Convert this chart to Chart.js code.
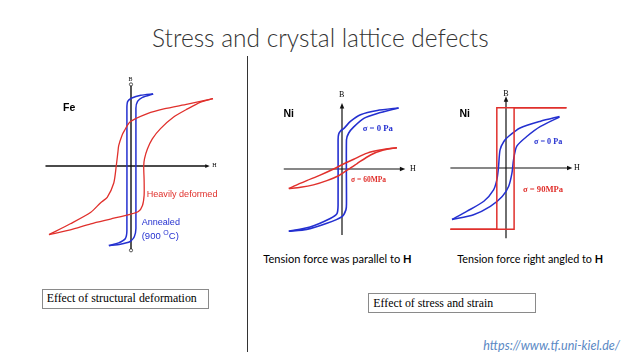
<!DOCTYPE html>
<html>
<head>
<meta charset="utf-8">
<script src="https://cdn.jsdelivr.net/npm/chart.js@4.4.0/dist/chart.umd.min.js"></script>
<style>
    html, body { margin: 0; padding: 0; background: #fff; }
    #slide { position: relative; width: 638px; height: 359px; overflow: hidden; background: #fff; }
    #slide canvas { position: absolute; }
    .t { position: absolute; white-space: nowrap; line-height: 1; transform: translateY(-50%); }
    .c { transform: translate(-50%, -50%); }
    .sans { font-family: 'Liberation Sans', Arial, sans-serif; }
    .serif { font-family: 'Liberation Serif', 'Times New Roman', serif; }
    .cal { font-family: Lato, 'Open Sans', sans-serif; }
    .red { color: #e0302c; }
    .blue { color: #2430d0; }
    .box { position: absolute; border: 1px solid #8a8a8a; box-sizing: border-box; }
</style>
</head>
<body>
<div id="slide">
    <div class="t cal" style="left:152px;top:38px;color:#333;font-weight:300" data-w="337">Stress and crystal lattice defects</div>
    <div style="position:absolute;left:246.5px;top:56px;width:1.5px;height:296px;background:#333"></div>

    <canvas id="feChart"></canvas>
    <canvas id="niParChart"></canvas>
    <canvas id="niPerpChart"></canvas>

    <!-- Fe panel labels -->
    <div class="t sans" style="left:63px;top:107px;font-weight:bold;font-size:10.5px">Fe</div>
    <div class="t serif c" style="left:130.5px;top:79px;font-size:6px">B</div>
    <div class="t serif c" style="left:214.5px;top:165px;font-size:6px">H</div>
    <div class="t sans red" style="left:146.7px;top:195px" data-w="71">Heavily deformed</div>
    <div class="t sans blue" style="left:141.7px;top:223px" data-w="38.5">Annealed</div>
    <div class="t sans blue" style="left:141.7px;top:234.5px;font-size:9.5px">(900 <sup style="font-size:7px">O</sup>C)</div>

    <!-- Ni, tension parallel -->
    <div class="t sans" style="left:283.5px;top:113px;font-weight:bold;font-size:10.5px">Ni</div>
    <div class="t serif c" style="left:341.7px;top:95px;font-size:8px">B</div>
    <div class="t serif c" style="left:413px;top:169px;font-size:8px">H</div>
    <div class="t serif blue" style="left:362.7px;top:128px;font-weight:bold" data-w="30.5">&sigma; = 0 Pa</div>
    <div class="t serif red" style="left:351px;top:179.5px;font-weight:bold" data-w="35">&sigma; = 60MPa</div>

    <!-- Ni, tension right angled -->
    <div class="t sans" style="left:459.5px;top:113px;font-weight:bold;font-size:10.5px">Ni</div>
    <div class="t serif c" style="left:506px;top:94px;font-size:8px">B</div>
    <div class="t serif c" style="left:577px;top:168.3px;font-size:8px">H</div>
    <div class="t serif blue" style="left:534px;top:142px;font-weight:bold" data-w="28.5">&sigma; = 0 Pa</div>
    <div class="t serif red" style="left:523px;top:188.5px;font-weight:bold" data-w="40">&sigma; = 90MPa</div>

    <!-- captions -->
    <div class="t cal" style="left:263.3px;top:259px" data-w="148.4">Tension force was parallel to <b>H</b></div>
    <div class="t cal" style="left:457.3px;top:259px" data-w="146">Tension force right angled to <b>H</b></div>

    <div class="box" style="left:41.7px;top:289px;width:167.5px;height:19.5px"></div>
    <div class="t serif" style="left:46.7px;top:298.5px" data-w="150">Effect of structural deformation</div>
    <div class="box" style="left:368.3px;top:293.3px;width:167.7px;height:20px"></div>
    <div class="t serif" style="left:373.3px;top:303.5px" data-w="120">Effect of stress and strain</div>

    <div class="t cal" style="left:483.3px;top:346px;font-style:italic;color:#5a88c4" data-w="136.7">https://www.tf.uni-kiel.de/</div>
</div>

<script>
/* ── Hysteresis loops, H and B in relative units (tip of each loop ≈ 1) ── */

// Fe, heavily deformed
const feDeformedDown = [[1.00, 0.99], [0.69, 0.91], [0.40, 0.84], [0.20, 0.77], [-0.01, 0.65], [-0.08, 0.52],
    [-0.11, 0.45], [-0.15, 0.30], [-0.16, 0.20], [-0.18, 0], [-0.21, -0.25], [-0.29, -0.46], [-0.37, -0.54],
    [-0.49, -0.68], [-0.74, -0.85], [-1.00, -1.01]];
const feDeformedUp = [[-1.00, -1.01], [-0.74, -0.94], [-0.49, -0.85], [-0.25, -0.78], [-0.01, -0.71], [0.09, -0.67],
    [0.14, -0.58], [0.16, -0.43], [0.16, -0.21], [0.155, 0], [0.165, 0.11], [0.20, 0.25], [0.26, 0.40],
    [0.36, 0.55], [0.52, 0.72], [0.69, 0.84], [0.85, 0.94], [1.00, 0.99]];

// Fe, annealed (900 °C)
const feAnnealedDown = [[0.27, 1.06], [0.12, 1.04], [0.01, 1.00], [-0.04, 0.95], [-0.05, 0.85], [-0.05, -0.95],
    [-0.07, -1.07], [-0.15, -1.13], [-0.27, -1.17]];
const feAnnealedUp = [[-0.27, -1.17], [-0.13, -1.15], [-0.01, -1.11], [0.04, -1.04], [0.06, -0.92], [0.06, 0.85],
    [0.08, 0.95], [0.14, 1.01], [0.27, 1.06]];

// Ni, tension parallel to H
const niZeroDown = [[1.01, 1.00], [0.63, 0.96], [0.33, 0.89], [0.15, 0.78], [0.04, 0.67], [-0.03, 0.62],
    [-0.06, 0.57], [-0.07, 0.48], [-0.07, -0.59], [-0.09, -0.73], [-0.21, -0.81], [-0.57, -0.95], [-0.95, -1.02]];
const niZeroUp = [[-0.95, -1.02], [-0.63, -0.99], [-0.27, -0.89], [0, -0.78], [0.07, -0.67], [0.08, -0.57],
    [0.08, 0.48], [0.12, 0.59], [0.21, 0.69], [0.39, 0.83], [0.63, 0.91], [1.01, 1.00]];
const ni60Down = [[0.98, 0.35], [0.68, 0.31], [0.45, 0.26], [0.21, 0.16], [0, 0.07], [-0.15, 0],
    [-0.39, -0.10], [-0.63, -0.19], [-0.86, -0.28], [-0.95, -0.32]];
const ni60Up = [[-0.95, -0.32], [-0.74, -0.30], [-0.51, -0.26], [-0.27, -0.19], [-0.06, -0.11], [0.09, -0.02],
    [0.27, 0.09], [0.51, 0.23], [0.74, 0.31], [0.98, 0.35]];

// Ni, tension right angled to H
const niPerpZeroDown = [[0.99, 0.99], [0.64, 0.90], [0.26, 0.77], [0.05, 0.61], [-0.04, 0.51], [-0.11, 0.35],
    [-0.14, 0], [-0.17, -0.23], [-0.23, -0.42], [-0.41, -0.64], [-0.72, -0.83], [-1.00, -0.99]];
const niPerpZeroUp = [[-1.00, -0.99], [-0.60, -0.90], [-0.29, -0.74], [-0.07, -0.55], [0.05, -0.35], [0.11, -0.10],
    [0.14, 0.16], [0.20, 0.42], [0.39, 0.61], [0.64, 0.80], [0.99, 0.98]];
const ni90Down = [[1.12, 1.16], [-0.17, 1.16], [-0.17, -1.18], [-1.03, -1.18]];
const ni90Up = [[-1.03, -1.18], [0.15, -1.18], [0.15, 1.16], [1.12, 1.16]];

const RED = '#e0302c';
const BLUE = '#2430d0';

/* ── fit label font sizes to the widths seen on the slide ── */
document.querySelectorAll('[data-w]').forEach(function (el) {
    el.style.fontSize = '20px';
    const w = el.offsetWidth;
    el.style.fontSize = (20 * parseFloat(el.dataset.w) / w) + 'px';
});

/* ── plugin: B/H axes through the origin ── */
const loopAxes = {
    id: 'loopAxes',
    beforeDatasetsDraw(chart, args, opts) {
        const ctx = chart.ctx;
        const x = chart.scales.x, y = chart.scales.y;
        const x0 = x.getPixelForValue(0), y0 = y.getPixelForValue(0);
        const hL = x.getPixelForValue(opts.h[0]), hR = x.getPixelForValue(opts.h[1]);
        const bB = y.getPixelForValue(opts.b[0]), bT = y.getPixelForValue(opts.b[1]);
        const a = opts.arrow;
        ctx.save();
        ctx.strokeStyle = '#111';
        ctx.fillStyle = '#111';
        ctx.lineWidth = opts.width;
        ctx.beginPath();
        ctx.moveTo(hL, y0); ctx.lineTo(hR - a, y0);
        ctx.moveTo(x0, bB); ctx.lineTo(x0, opts.arrowB ? bT + a : bT);
        ctx.stroke();
        // arrow on H
        ctx.beginPath();
        ctx.moveTo(hR, y0); ctx.lineTo(hR - a * 1.8, y0 - a * 0.75); ctx.lineTo(hR - a * 1.8, y0 + a * 0.75);
        ctx.closePath(); ctx.fill();
        if (opts.arrowB) {
            ctx.beginPath();
            ctx.moveTo(x0, bT); ctx.lineTo(x0 - a * 0.75, bT + a * 1.8); ctx.lineTo(x0 + a * 0.75, bT + a * 1.8);
            ctx.closePath(); ctx.fill();
        }
        if (opts.dots) {
            ctx.lineWidth = 0.7;
            ctx.fillStyle = '#fff';
            [bT, bB].forEach(function (py) {
                ctx.beginPath(); ctx.arc(x0, py, 1.6, 0, Math.PI * 2); ctx.fill(); ctx.stroke();
            });
        }
        ctx.restore();
    }
};

function loopChart(id, frame, series, axes) {
    const canvas = document.getElementById(id);
    canvas.width = frame.hw * 2;
    canvas.height = frame.hh * 2;
    canvas.style.left = (frame.ox - frame.hw) + 'px';
    canvas.style.top = (frame.oy - frame.hh) + 'px';
    canvas.style.width = frame.hw * 2 + 'px';
    canvas.style.height = frame.hh * 2 + 'px';

    return new Chart(canvas.getContext('2d'), {
        type: 'scatter',
        data: {
            datasets: series.map(function (s) {
                return {
                    data: s.pts.map(function (p) { return { x: p[0], y: p[1] }; }),
                    borderColor: s.color,
                    borderWidth: s.width || 1.5,
                    showLine: true,
                    pointRadius: 0,
                    tension: s.tension === undefined ? 0.25 : s.tension,
                    fill: false,
                };
            })
        },
        options: {
            responsive: false,
            animation: false,
            events: [],
            layout: { padding: 0 },
            scales: {
                x: { type: 'linear', display: false, min: -frame.hw / frame.sx, max: frame.hw / frame.sx },
                y: { type: 'linear', display: false, min: -frame.hh / frame.sy, max: frame.hh / frame.sy },
            },
            plugins: {
                legend: { display: false },
                tooltip: { enabled: false },
                loopAxes: axes,
            }
        },
        plugins: [loopAxes]
    });
}

loopChart('feChart',
    { ox: 130.5, oy: 165.5, sx: 82, sy: 68, hw: 95, hh: 95 },
    [
        { pts: feDeformedDown, color: RED, width: 1.3 },
        { pts: feDeformedUp, color: RED, width: 1.3 },
        { pts: feAnnealedDown, color: BLUE, width: 1.5, tension: 0.2 },
        { pts: feAnnealedUp, color: BLUE, width: 1.5, tension: 0.2 },
    ],
    { h: [-1.043, 0.96], b: [-1.24, 1.20], arrow: 2.5, width: 1.4, arrowB: false, dots: true });

loopChart('niParChart',
    { ox: 341.7, oy: 169, sx: 56, sy: 61, hw: 78, hh: 80 },
    [
        { pts: ni60Down, color: RED, width: 1.5 },
        { pts: ni60Up, color: RED, width: 1.5 },
        { pts: niZeroDown, color: BLUE, width: 1.6, tension: 0.2 },
        { pts: niZeroUp, color: BLUE, width: 1.6, tension: 0.2 },
    ],
    { h: [-1.04, 1.13], b: [-1.08, 1.08], arrow: 3, width: 1.2, arrowB: true, dots: false });

loopChart('niPerpChart',
    { ox: 505.7, oy: 168.3, sx: 54, sy: 52, hw: 78, hh: 80 },
    [
        { pts: ni90Down, color: RED, width: 1.5, tension: 0 },
        { pts: ni90Up, color: RED, width: 1.5, tension: 0 },
        { pts: niPerpZeroDown, color: BLUE, width: 1.5 },
        { pts: niPerpZeroUp, color: BLUE, width: 1.5 },
    ],
    { h: [-1.03, 1.23], b: [-1.35, 1.38], arrow: 3, width: 1.2, arrowB: true, dots: false });
</script>
</body>
</html>
